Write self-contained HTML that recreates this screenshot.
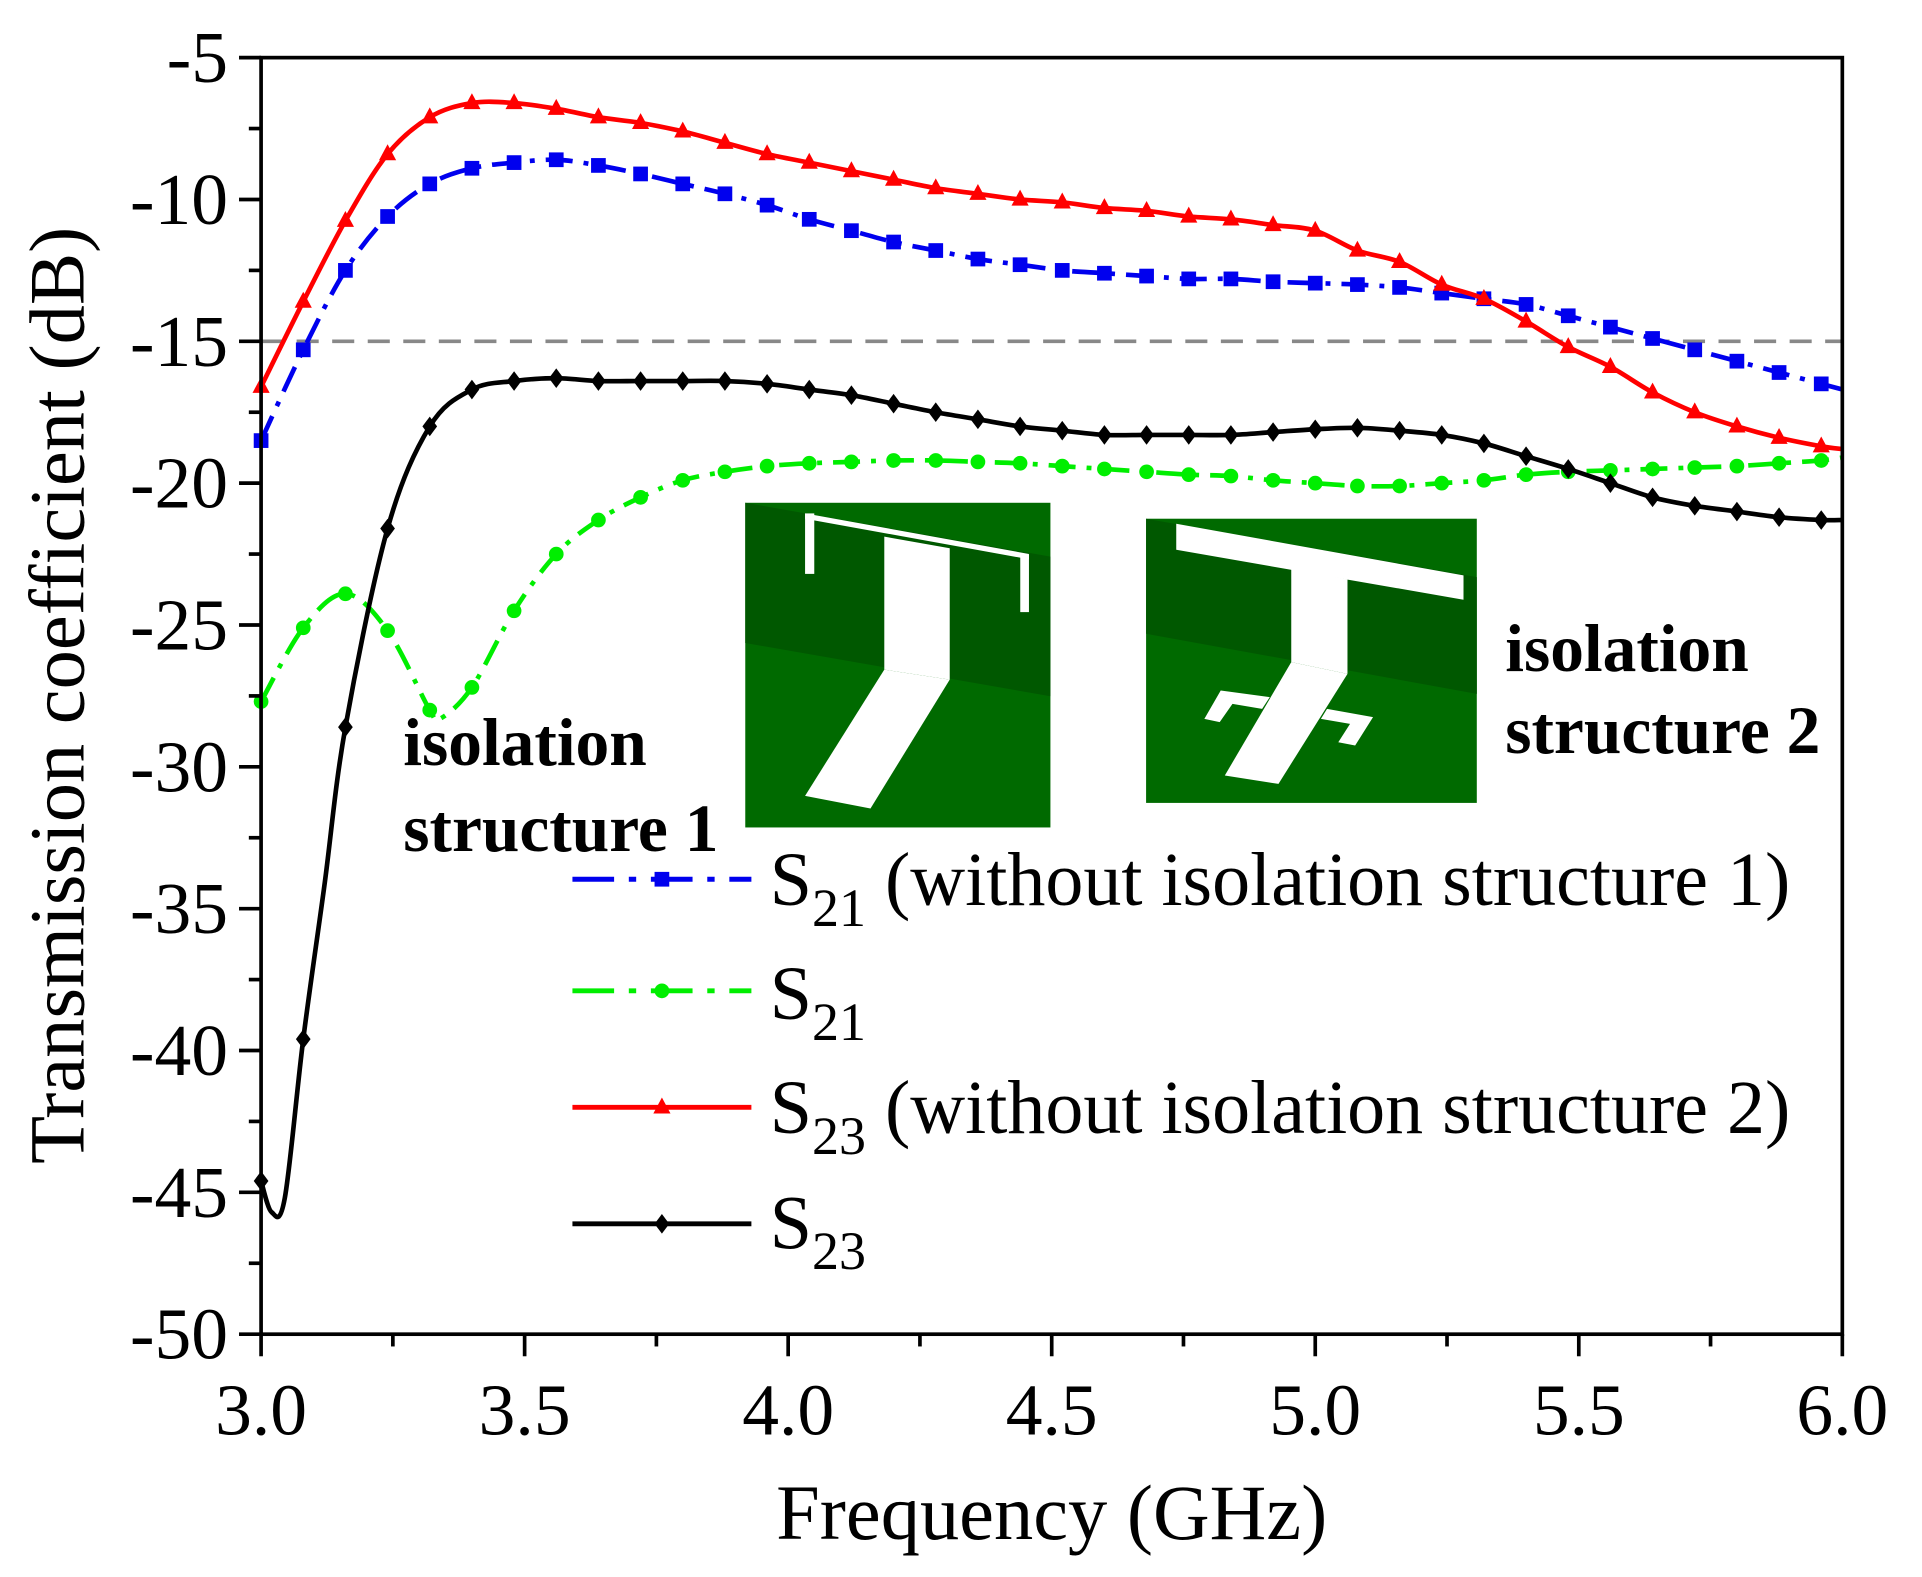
<!DOCTYPE html>
<html><head><meta charset="utf-8"><style>
html,body{margin:0;padding:0;background:#fff}
svg{display:block}
text{font-family:"Liberation Serif",serif}
</style></head><body>
<svg id="s" width="1922" height="1577" viewBox="0 0 1568 1286" preserveAspectRatio="none" xmlns="http://www.w3.org/2000/svg">
<rect width="1568" height="1286" fill="#fff"/>
<g id="g"></g>
<!-- inset 1 -->
<g transform="translate(608,410) scale(0.417,0.271) translate(-90,-68)">
<rect x="90" y="68" width="597" height="977" fill="#006a00"/>
<polygon points="90,68 687,230 687,650 90,490" fill="#005800"/>
<polygon points="207,100 645,222 645,238 207,116" fill="#fff"/>
<rect x="207" y="100" width="18" height="182" fill="#fff"/>
<rect x="628" y="225" width="17" height="172" fill="#fff"/>
<polygon points="362,170 490,205 490,600 362,570" fill="#fff"/>
<polygon points="362,570 490,600 335,988 207,950" fill="#fff"/>
</g>
<!-- inset 2 -->
<g transform="translate(935,423) scale(0.417,0.272) translate(-876,-115)">
<rect x="876" y="115" width="647" height="852" fill="#006a00"/>
<polygon points="876,115 1523,290 1523,640 876,460" fill="#005800"/>
<polygon points="935,130 1497,285 1497,358 935,208" fill="#fff"/>
<polygon points="1160,265 1270,297 1270,580 1160,545" fill="#fff"/>
<polygon points="1160,545 1270,580 1135,910 1030,885" fill="#fff"/>
<polygon points="1022,630 1118,650 1103,685 1045,670 1020,725 990,715" fill="#fff"/>
<polygon points="1230,685 1320,710 1285,795 1252,785 1275,730 1218,715" fill="#fff"/>
</g>
<g font-weight="bold" font-size="55" fill="#000">
<text x="329" y="624">isolation</text>
<text x="329" y="694">structure 1</text>
<text x="1228" y="547">isolation</text>
<text x="1228" y="614">structure 2</text>
</g>
<g id="leg"></g>
<g font-size="62" fill="#000">
<text x="628" y="738">S<tspan font-size="44" dy="17">21</tspan><tspan dy="-17"> (without isolation structure 1)</tspan></text>
<text x="628" y="831">S<tspan font-size="44" dy="17">21</tspan></text>
<text x="628" y="924">S<tspan font-size="44" dy="17">23</tspan><tspan dy="-17"> (without isolation structure 2)</tspan></text>
<text x="628" y="1018">S<tspan font-size="44" dy="17">23</tspan></text>
</g>
<text x="858" y="1255" font-size="64" text-anchor="middle">Frequency (GHz)</text>
<text transform="translate(68,567) rotate(-90)" font-size="64" text-anchor="middle">Transmission coefficient (dB)</text>
</svg>
<script>
const NS="http://www.w3.org/2000/svg";
const g=document.getElementById('g');
const X=f=>213+430*(f-3), Y=d=>47+(-5-d)*23.133;
function el(t,a,p){const e=document.createElementNS(NS,t);for(const k in a)e.setAttribute(k,a[k]);(p||g).appendChild(e);return e;}
function txt(x,y,s,a,p){const e=el('text',Object.assign({x:x,y:y},a),p);e.textContent=s;return e;}
el('line',{x1:213,x2:1503,y1:Y(-15),y2:Y(-15),stroke:'#888','stroke-width':3,'stroke-dasharray':'18 11'});
const fs=k=>3+0.08*k;
const red=[-16.6,-13.6,-10.75,-8.4,-7.1,-6.6,-6.6,-6.8,-7.1,-7.3,-7.6,-8.0,-8.4,-8.7,-9.0,-9.3,-9.6,-9.8,-10.0,-10.1,-10.3,-10.4,-10.6,-10.7,-10.9,-11.1,-11.8,-12.2,-13.0,-13.5,-14.3,-15.2,-15.9,-16.8,-17.5,-18.0,-18.4,-18.7];
const blue=[-18.5,-15.3,-12.5,-10.6,-9.45,-8.9,-8.7,-8.6,-8.8,-9.1,-9.45,-9.8,-10.2,-10.7,-11.1,-11.5,-11.8,-12.1,-12.3,-12.5,-12.6,-12.7,-12.8,-12.8,-12.9,-12.95,-13.0,-13.1,-13.3,-13.5,-13.7,-14.1,-14.5,-14.9,-15.3,-15.7,-16.1,-16.5];
const green=[-27.7,-25.1,-23.9,-25.2,-28.0,-27.2,-24.5,-22.5,-21.3,-20.5,-19.9,-19.6,-19.4,-19.3,-19.25,-19.2,-19.2,-19.25,-19.3,-19.4,-19.5,-19.6,-19.7,-19.75,-19.9,-20.0,-20.1,-20.1,-20.0,-19.9,-19.7,-19.6,-19.55,-19.5,-19.45,-19.4,-19.3,-19.2];
const black=[-44.6,-39.6,-28.6,-21.6,-18.0,-16.7,-16.4,-16.3,-16.4,-16.4,-16.4,-16.4,-16.5,-16.7,-16.9,-17.2,-17.5,-17.75,-18.0,-18.15,-18.3,-18.3,-18.3,-18.3,-18.2,-18.1,-18.05,-18.15,-18.3,-18.6,-19.05,-19.5,-20.0,-20.5,-20.8,-21.0,-21.2,-21.3];
function pts(arr,extra,end){let p=arr.map((d,k)=>[fs(k),d]);p=p.concat(extra);p.push([6,end]);p.sort((a,b)=>a[0]-b[0]);return p;}
function path(p){
  let d='M'+X(p[0][0])+','+Y(p[0][1]);
  for(let i=0;i<p.length-1;i++){const p0=p[Math.max(0,i-1)],p1=p[i],p2=p[i+1],p3=p[Math.min(p.length-1,i+2)];
    const c1=[X(p1[0])+(X(p2[0])-X(p0[0]))/6,Y(p1[1])+(Y(p2[1])-Y(p0[1]))/6];
    const c2=[X(p2[0])-(X(p3[0])-X(p1[0]))/6,Y(p2[1])-(Y(p3[1])-Y(p1[1]))/6];
    d+=' C'+c1+' '+c2+' '+X(p2[0])+','+Y(p2[1]);}
  return d;}
const DD='22 9 4 9';
function marker(type,x,y,c,p){
  if(type=='sq')el('rect',{x:x-6,y:y-6,width:12,height:12,fill:c},p);
  else if(type=='ci')el('circle',{cx:x,cy:y,r:6,fill:c},p);
  else if(type=='tr')el('polygon',{points:`${x},${y-8} ${x+7},${y+5} ${x-7},${y+5}`,fill:c},p);
  else el('polygon',{points:`${x},${y-8} ${x+6},${y} ${x},${y+8} ${x-6},${y}`,fill:c},p);}
function series(arr,extra,end,c,dash,type){
  const a={d:path(pts(arr,extra,end)),fill:'none',stroke:c,'stroke-width':3.8,'stroke-linejoin':'round'};
  if(dash)a['stroke-dasharray']=dash;
  el('path',a);
  arr.forEach((d,k)=>marker(type,X(fs(k)),Y(d),c));}
series(green,[[3.34,-28.3]],-19.1,'#00ee00',DD,'ci');
series(black,[[3.02,-45.7],[3.045,-45.2],[3.12,-34.2]],-21.3,'#000',null,'di');
series(blue,[],-16.7,'#0000ee',DD,'sq');
series(red,[],-18.8,'#ff0000',null,'tr');
el('rect',{x:213,y:47,width:1290,height:1041,fill:'none',stroke:'#000','stroke-width':3});
for(let i=0;i<=18;i++){const v=-5-2.5*i,y=Y(v),maj=i%2==0;
  el('line',{x1:213,x2:maj?195:203,y1:y,y2:y,stroke:'#000','stroke-width':3});
  if(maj)txt(186,y+20,String(v),{'font-size':60,'text-anchor':'end'});}
for(let i=0;i<=12;i++){const f=3+0.25*i,x=X(f),maj=i%2==0;
  el('line',{x1:x,x2:x,y1:1088,y2:maj?1106:1098,stroke:'#000','stroke-width':3});
  if(maj)txt(x,1170,f.toFixed(1),{'font-size':60,'text-anchor':'middle'});}
const L=document.getElementById('leg');
[[717,'#0000ee',DD,'sq'],[808,'#00ee00',DD,'ci'],[903,'#ff0000',null,'tr'],[998,'#000',null,'di']].forEach(r=>{
  const a={x1:467,x2:613,y1:r[0],y2:r[0],stroke:r[1],'stroke-width':4};
  if(r[2])a['stroke-dasharray']='34 12 6 12';
  el('line',a,L);marker(r[3],540,r[0],r[1],L);});
</script>
</body></html>
